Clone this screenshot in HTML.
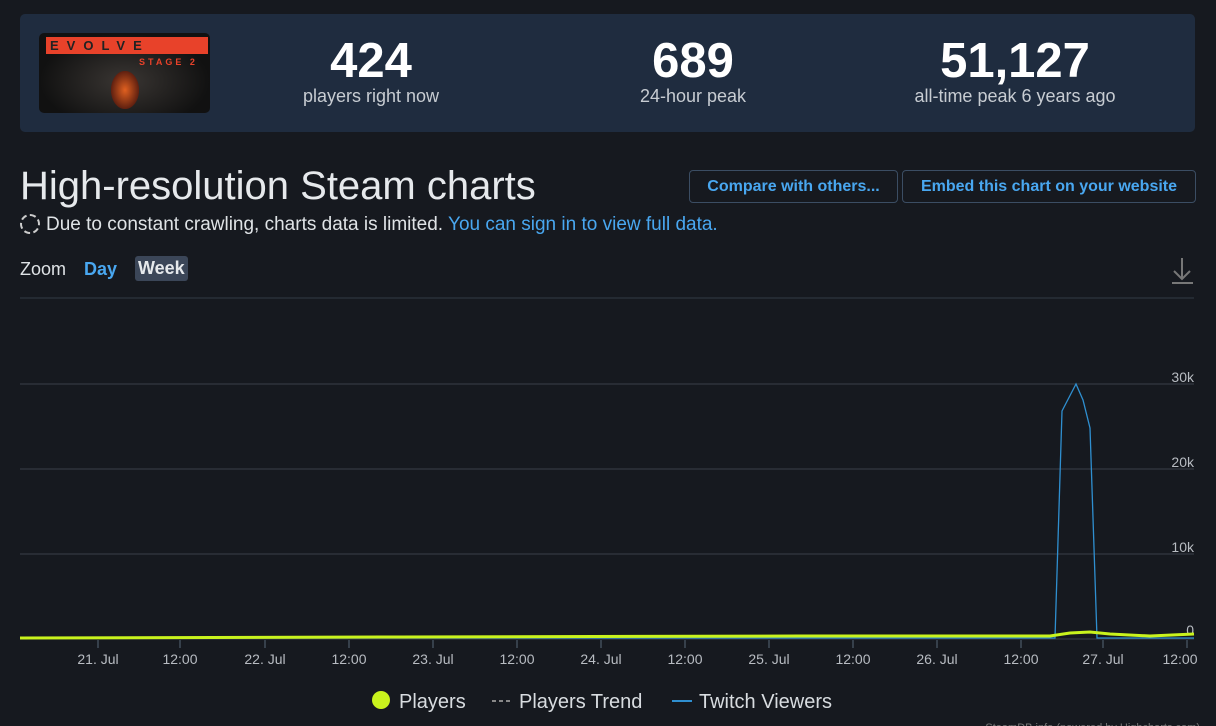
<!DOCTYPE html>
<html><head><style>
body{margin:0;width:1216px;height:726px;background:#16191f;font-family:"Liberation Sans",sans-serif;color:#dfe3e6;position:relative;overflow:hidden}
.hdr{position:absolute;left:20px;top:14px;width:1175px;height:118px;background:#1f2c3f;border-radius:5px}
.img{position:absolute;left:19px;top:19px;width:171px;height:80px;background:radial-gradient(ellipse at 50% 60%,#3a3633,#111 70%);border-radius:5px;overflow:hidden}
.stat{position:absolute;top:22px;text-align:center;width:260px}
.stat b{display:block;font-size:49px;color:#fff;line-height:50px}
.stat span{font-size:18px;color:#c7ccd2}
.btn{position:absolute;top:170px;height:31px;border:1px solid #3b4d63;border-radius:4px;color:#49a7f0;font-weight:bold;font-size:16px;line-height:31px;text-align:center}
.t{position:absolute;white-space:nowrap}
</style></head><body>
<div class="hdr">
<div class="img">
<div style="position:absolute;left:7px;top:4px;width:158px;height:17px;background:#e8422a;color:#222;font-size:13px;font-weight:bold;letter-spacing:8px;line-height:17px;padding-left:4px">EVOLVE</div>
<div style="position:absolute;left:100px;top:24px;color:#e8422a;font-size:9px;font-weight:bold;letter-spacing:3px">STAGE 2</div>
<div style="position:absolute;left:72px;top:38px;width:28px;height:38px;background:radial-gradient(#e06020,#602010 70%,transparent 72%)"></div>
</div>
<div class="stat" style="left:221px"><b>424</b><span>players right now</span></div>
<div class="stat" style="left:543px"><b>689</b><span>24-hour peak</span></div>
<div class="stat" style="left:865px"><b>51,127</b><span>all-time peak 6 years ago</span></div>
</div>
<div class="t" style="left:20px;top:164px;font-size:40px;color:#e6e9ec">High-resolution Steam charts</div>
<div class="btn" style="left:689px;width:207px">Compare with others...</div>
<div class="btn" style="left:902px;width:292px">Embed this chart on your website</div>
<div class="t" style="left:20px;top:214px;font-size:19px;color:#dfe3e6"><span style="display:inline-block;width:16px;height:16px;border:2px dashed #ccc;border-radius:50%;vertical-align:-4px;margin-right:6px"></span>Due to constant crawling, charts data is limited. <span style="color:#49a7f0">You can sign in to view full data.</span></div>
<div class="t" style="left:20px;top:259px;font-size:18px">Zoom</div>
<div class="t" style="left:84px;top:259px;font-size:18px;color:#49a7f0;font-weight:bold">Day</div>
<div class="t" style="left:135px;top:256px;font-size:18px;font-weight:bold;background:#3b4658;padding:2px 3px;border-radius:3px;color:#e6e9ec">Week</div>
<svg style="position:absolute;left:0;top:0" width="1216" height="726">
<path d="M1182 258v20M1174 271l8 8 8-8M1172 283h21" stroke="#777" stroke-width="2" fill="none"/>
<line x1="20" y1="298" x2="1194" y2="298" stroke="#333a44"/>
<g stroke="#3a3f48"><line x1="20" y1="384" x2="1194" y2="384"/><line x1="20" y1="469" x2="1194" y2="469"/><line x1="20" y1="554" x2="1194" y2="554"/><line x1="20" y1="639" x2="1194" y2="639"/></g>
<g fill="#b8bcc2" font-size="14" text-anchor="end" font-family="Liberation Sans"><text x="1194" y="382">30k</text><text x="1194" y="467">20k</text><text x="1194" y="552">10k</text><text x="1194" y="635">0</text></g>
<g stroke="#556677"><line x1="98" y1="640" x2="98" y2="648"/><line x1="180" y1="640" x2="180" y2="648"/><line x1="265" y1="640" x2="265" y2="648"/><line x1="349" y1="640" x2="349" y2="648"/><line x1="433" y1="640" x2="433" y2="648"/><line x1="517" y1="640" x2="517" y2="648"/><line x1="601" y1="640" x2="601" y2="648"/><line x1="685" y1="640" x2="685" y2="648"/><line x1="769" y1="640" x2="769" y2="648"/><line x1="853" y1="640" x2="853" y2="648"/><line x1="937" y1="640" x2="937" y2="648"/><line x1="1021" y1="640" x2="1021" y2="648"/><line x1="1103" y1="640" x2="1103" y2="648"/><line x1="1187" y1="640" x2="1187" y2="648"/></g>
<g fill="#b8bcc2" font-size="14" text-anchor="middle" font-family="Liberation Sans"><text x="98" y="664">21. Jul</text><text x="180" y="664">12:00</text><text x="265" y="664">22. Jul</text><text x="349" y="664">12:00</text><text x="433" y="664">23. Jul</text><text x="517" y="664">12:00</text><text x="601" y="664">24. Jul</text><text x="685" y="664">12:00</text><text x="769" y="664">25. Jul</text><text x="853" y="664">12:00</text><text x="937" y="664">26. Jul</text><text x="1021" y="664">12:00</text><text x="1103" y="664">27. Jul</text><text x="1180" y="664">12:00</text></g>
<polyline points="20,638 1055,638 1062,411 1076,384 1083,400 1090,428 1097,638 1194,638" fill="none" stroke="#2f8fd0" stroke-width="1.3"/>
<polyline points="20,638 400,637 800,636 1050,636 1070,633 1090,632 1110,634 1150,636 1194,634" fill="none" stroke="#c9f31d" stroke-width="3"/>
<circle cx="381" cy="700" r="9" fill="#c9f31d"/>
<text x="399" y="708" fill="#d8dce0" font-size="20" font-family="Liberation Sans">Players</text>
<line x1="492" y1="701" x2="512" y2="701" stroke="#888" stroke-dasharray="4,3" stroke-width="2"/>
<text x="519" y="708" fill="#d8dce0" font-size="20" font-family="Liberation Sans">Players Trend</text>
<line x1="672" y1="701" x2="692" y2="701" stroke="#2f8fd0" stroke-width="2"/>
<text x="699" y="708" fill="#d8dce0" font-size="20" font-family="Liberation Sans">Twitch Viewers</text>
<text x="1200" y="731" fill="#777" font-size="11" text-anchor="end" font-family="Liberation Sans">SteamDB.info (powered by Highcharts.com)</text>
</svg>
</body></html>
